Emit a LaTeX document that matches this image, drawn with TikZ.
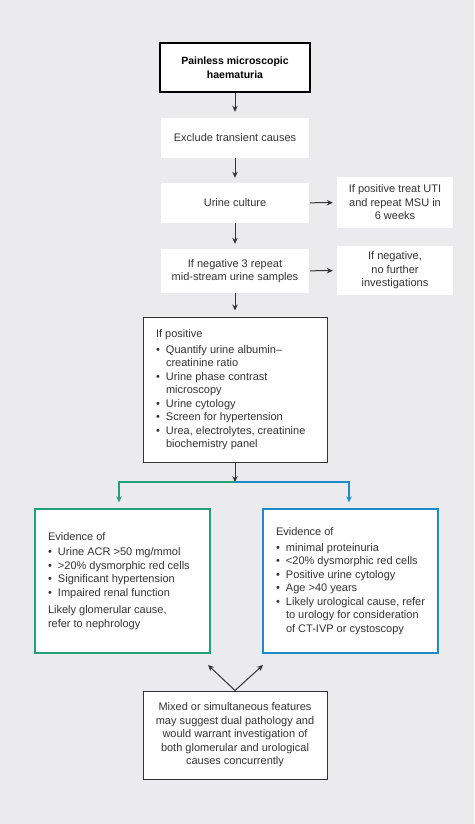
\documentclass[tikz,border=0pt]{standalone}
\usepackage{fontspec}
\setmainfont{Liberation Sans}
\usepackage{tikz}
\usetikzlibrary{arrows.meta}
\definecolor{paper}{RGB}{235, 235, 237}
\definecolor{ink}{RGB}{52, 52, 54}
\definecolor{glom}{RGB}{34, 160, 122}
\definecolor{urol}{RGB}{28, 140, 200}
\newcommand{\bitem}{\par\hangindent=10pt\hangafter=1\makebox[10pt][l]{\textbullet}}

\tikzset{
  stepbox/.style={fill=white, text=ink, align=center, inner sep=0pt,
                  minimum width=148pt, font=\fontsize{11}{13.5}\selectfont},
  listbox/.style={fill=white, text=ink, align=left, inner sep=0pt,
                  font=\fontsize{11}{13.5}\selectfont},
  link/.style={-{Stealth[length=6pt, width=5.5pt]}, line width=1pt, draw=ink}
}

\begin{document}
\begin{tikzpicture}[x=1pt, y=-1pt]
  \fill[paper] (0, 0) rectangle (474, 824);
  \useasboundingbox (0, 0) rectangle (474, 824);

  \node[stepbox, draw=black, line width=1.3pt, minimum width=150pt, minimum height=49pt,
        text=black, font=\bfseries\fontsize{10.5}{13.5}\selectfont] (start) at (235, 67.5)
        {Painless microscopic\\haematuria};
  \node[stepbox, minimum height=40pt] (exclude) at (235, 138) {Exclude transient causes};
  \node[stepbox, minimum height=40pt] (culture) at (235, 203) {Urine culture};
  \node[stepbox, minimum width=116pt, minimum height=51pt] (treat) at (395, 202.5)
        {If positive treat UTI\\and repeat MSU in\\6 weeks};
  \node[stepbox, minimum height=44pt] (repeat) at (235, 271)
        {If negative 3 repeat\\mid-stream urine samples};
  \node[stepbox, minimum width=116pt, minimum height=49pt] (nofurther) at (395, 270.5)
        {If negative,\\no further\\investigations};

  \node[listbox, draw=ink, line width=1pt, minimum width=184pt, minimum height=145pt] (tests) at (235, 389.5)
        {\parbox{158pt}{\raggedright\hyphenpenalty=10000
         If positive\par\vspace{2.5pt}
         \bitem Quantify urine albumin--\newline creatinine ratio
         \bitem Urine phase contrast\newline microscopy
         \bitem Urine cytology
         \bitem Screen for hypertension
         \bitem Urea, electrolytes, creatinine\newline biochemistry panel}};

  \node[listbox, draw=glom, line width=1.3pt, minimum width=175pt, minimum height=144pt] (glomerular) at (122.5, 581)
        {\parbox{149pt}{\raggedright\hyphenpenalty=10000
         Evidence of\par\vspace{2pt}
         \bitem Urine ACR >50 mg/mmol
         \bitem >20\% dysmorphic red cells
         \bitem Significant hypertension
         \bitem Impaired renal function
         \par\vspace{4pt}Likely glomerular cause,\\refer to nephrology}};
  \node[listbox, draw=urol, line width=1.3pt, minimum width=175pt, minimum height=144pt] (urological) at (350.5, 581)
        {\parbox{149pt}{\raggedright\hyphenpenalty=10000
         Evidence of\par\vspace{2pt}
         \bitem minimal proteinuria
         \bitem <20\% dysmorphic red cells
         \bitem Positive urine cytology
         \bitem Age >40 years
         \bitem Likely urological cause, refer\newline to urology for consideration\newline of CT-IVP or cystoscopy}};

  \node[stepbox, draw=ink, line width=1pt, minimum width=184pt, minimum height=88pt] (mixed) at (235, 735)
        {Mixed or simultaneous features\\may suggest dual pathology and\\would warrant investigation of\\both glomerular and urological\\causes concurrently};

  % main line
  \draw[link, shorten >=6pt] (start) -- (exclude);
  \draw[link, shorten >=5pt] (exclude) -- (culture);
  \draw[link, shorten >=5pt] (culture) -- (repeat);
  \draw[link, shorten >=6pt] (repeat) -- (tests);
  \draw[link, shorten <=1pt, shorten >=4pt] (culture) -- (treat);
  \draw[link, shorten <=1pt, shorten >=4pt] (repeat) -- (nofurther);

  % split to the two causes
  \coordinate (split) at (235, 482);
  \draw[link] (tests) -- (split);
  \draw[link, draw=glom, line width=1.3pt, shorten >=6pt] (split) -| (glomerular.north -| 119, 0);
  \draw[link, draw=urol, line width=1.3pt, shorten >=6pt] (split) -| (urological.north -| 349, 0);

  \coordinate (toglom) at (208, 665);
  \coordinate (tourol) at (263, 665);
  \draw[link] (mixed.north) -- (toglom);
  \draw[link] (mixed.north) -- (tourol);
\end{tikzpicture}
\end{document}
